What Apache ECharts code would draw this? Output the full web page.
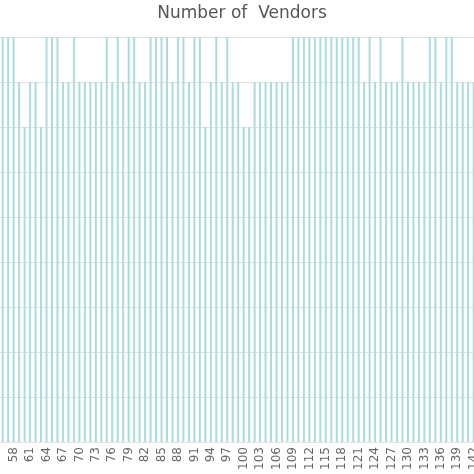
<!DOCTYPE html>
<html>
<head>
<meta charset="utf-8">
<script src="https://cdn.jsdelivr.net/npm/echarts@6/dist/echarts.min.js"></script>
<style>html,body{margin:0;padding:0;background:#fff;overflow:hidden}#c{position:absolute;left:-10px;top:0;width:490px;height:474px}</style>
</head>
<body>
<div id="c"></div>
<script>
const titleText = 'Number of  Vendors';
const categories = [];
for (let v = 55; v <= 142; v++) categories.push(String(v));
const vendorCounts = [
  8, 9, 9, 9, 8, 7, 8, 8, 7, 9,   // 55-64
  9, 9, 8, 8, 9, 8, 8, 8, 8, 8,   // 65-74
  9, 8, 9, 8, 9, 9, 8, 8, 9, 9,   // 75-84
  9, 9, 8, 9, 9, 8, 9, 9, 7, 8,   // 85-94
  9, 8, 9, 8, 8, 7, 7, 8, 8, 8,   // 95-104
  8, 8, 8, 8, 9, 9, 9, 9, 9, 9,   // 105-114
  9, 9, 9, 9, 9, 9, 9, 8, 9, 8,   // 115-124
  9, 8, 8, 8, 9, 8, 8, 8, 8, 9,   // 125-134
  9, 8, 9, 9, 8, 8, 8, 8          // 135-142
];
const yMin = 0, yMax = 9, yInterval = 1;

const chart = echarts.init(document.getElementById('c'), null, {renderer: 'canvas'});
chart.setOption({
  animation: false,
  title: {
    text: titleText, left: 247, textAlign: 'center', top: 0,
    textStyle: {fontFamily: 'DejaVu Sans', fontSize: 17, fontWeight: 'normal', color: '#555'}
  },
  grid: {left: 4.5, right: 3.6, top: 37, bottom: 32, containLabel: false},
  xAxis: {
    type: 'category', data: categories,
    axisLine: {show: true, lineStyle: {color: '#e3e3e3'}},
    axisTick: {show: false},
    axisLabel: {interval: 2, rotate: 90, fontFamily: 'DejaVu Sans', fontSize: 12, color: '#666', margin: 5}
  },
  yAxis: {
    type: 'value', min: yMin, max: yMax, interval: yInterval,
    axisLine: {show: false}, axisTick: {show: false},
    axisLabel: {show: false},
    splitLine: {lineStyle: {color: '#e3e3e3', width: 1}}
  },
  series: [{
    type: 'bar', data: vendorCounts, barWidth: 2,
    itemStyle: {color: '#abdbdb'}
  }]
});
</script>
</body>
</html>
